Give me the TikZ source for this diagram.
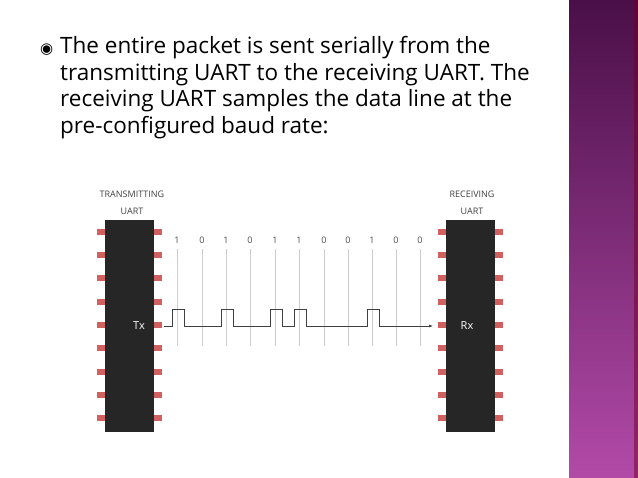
\documentclass[tikz,border=0pt]{standalone}
\usepackage{fontspec}
\usetikzlibrary{arrows.meta}
\setmainfont{Open Sans}
\newfontfamily\djv{DejaVu Sans}
\begin{document}
\begin{tikzpicture}[x=1pt,y=-1pt,
  pin/.style={fill=red!55!gray!80, draw=none},
  chip/.style={fill=black!85},
  lbl/.style={font=\fontsize{9}{10}\selectfont, text=black!75},
  bit/.style={font=\fontsize{9}{10}\selectfont, text=black!70},
  grid/.style={draw=black!20, line width=0.4pt},
  txt/.style={anchor=base west, font=\fontsize{22.5}{26}\selectfont, inner sep=0pt}]
\useasboundingbox (0,0) rectangle (638,478);
\fill[white] (0,0) rectangle (638,478);
\shade[top color={rgb,255:red,74;green,15;blue,72}, bottom color={rgb,255:red,178;green,74;blue,168}] (569,0) rectangle (638,478);
\fill[black!40!purple, opacity=0.5] (634,0) rectangle (638,478);
% text
\node[anchor=base west, inner sep=0pt, font=\djv\fontsize{15}{16}\selectfont] (bul) at (40,54) {◉};
\node[txt] (l1) at (60,54) {The entire packet is sent serially from the};
\node[txt] (l2) at (60,81) {transmitting UART to the receiving UART. The};
\node[txt] (l3) at (60,107) {receiving UART samples the data line at the};
\node[txt] (l4) at (60,134) {pre-configured baud rate:};
% chips
\foreach \cx/\nm in {105/tx,446/rx}{
  \foreach \py in {232,255,278,302,325,348,372,395,418}{
    \fill[pin] (\cx-8,\py-3) rectangle (\cx,\py+3);
    \fill[pin] (\cx+49,\py-3) rectangle (\cx+57,\py+3);
  }
  \fill[chip] (\cx,220) rectangle (\cx+49,432);
}
\node[lbl] (tl1) at (132,194) {TRANSMITTING};
\node[lbl] (tl2) at (132,211) {UART};
\node[lbl] (rl1) at (472,194) {RECEIVING};
\node[lbl] (rl2) at (472,211) {UART};
\node[text=white, font=\fontsize{11}{12}\selectfont] (txn) at (139,326) {Tx};
\node[text=white, font=\fontsize{11}{12}\selectfont] (rxn) at (467,326) {Rx};
% bits
\foreach \x/\b in {177/1,202/0,226/1,250/0,275/1,299/1,324/0,348/0,372/1,396/0,420/0}{
  \draw[grid] (\x,249) -- (\x,346);
  \node[bit, fill=white, inner sep=1pt] at (\x,240) {\b};
}
\coordinate (s0) at (164,326);
\coordinate (s1) at (433,326);
\draw[black!75, line width=0.6pt, -{Latex[length=4pt]}] (s0) -- (172,326) |- (184,309) |- (221,326) |- (233,309) |- (270,326) |- (282,309) |- (294,326) |- (306,309) |- (367,326) |- (379,309) |- (s1);
\end{tikzpicture}
\end{document}
